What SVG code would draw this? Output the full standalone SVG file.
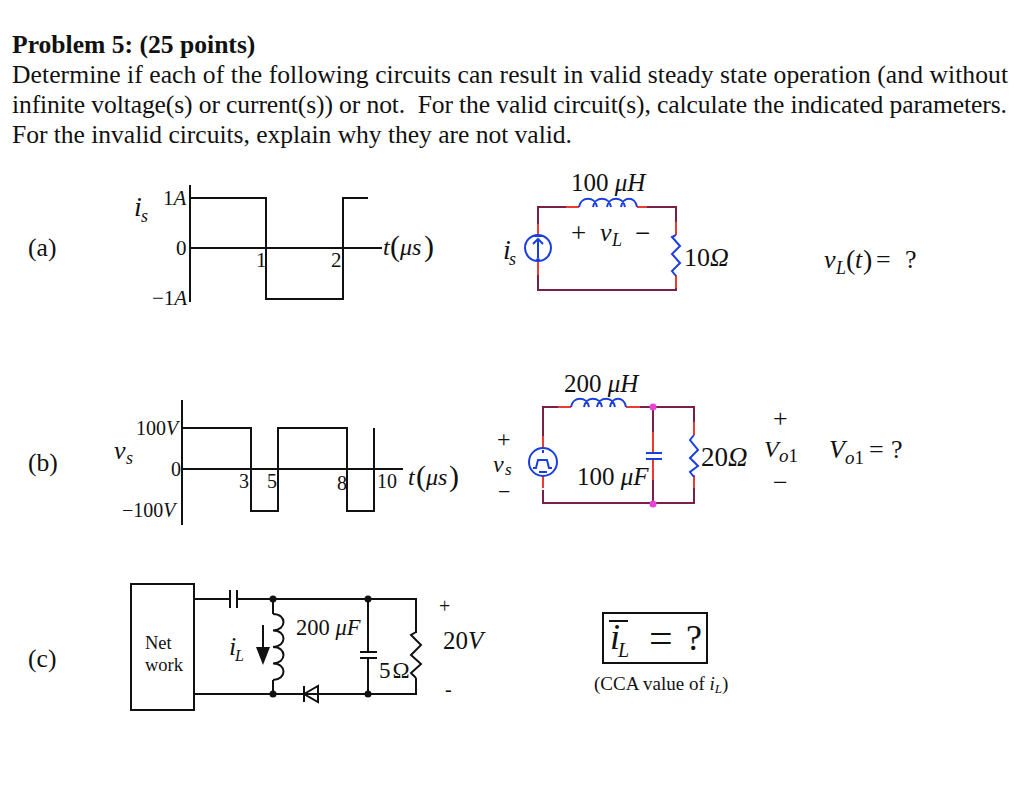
<svg xmlns="http://www.w3.org/2000/svg" width="1024" height="792" viewBox="0 0 1024 792">
<defs><style>
text{font-family:"Liberation Serif","Times New Roman",serif;fill:#111}
.t{font-size:25.6px}
.b{font-size:25.6px;font-weight:bold}
.i{font-style:italic}
.s{font-size:21px}
.u{font-size:20px}
.k{fill:none;stroke:#111;stroke-width:2}
.w{fill:none;stroke:#7a2048;stroke-width:2}
.r{fill:none;stroke:#ee3a30;stroke-width:2}
.c{fill:none;stroke:#1a3fe0;stroke-width:2}
.n{fill:#e845d8}
.d{fill:#111}
</style></defs>
<rect width="1024" height="792" fill="#fff"/>
<g id="problem-text">
<text class="b" x="12" y="53">Problem 5: (25 points)</text>
<text class="t" x="12" y="83" textLength="996">Determine if each of the following circuits can result in valid steady state operation (and without</text>
<text class="t" x="12" y="113" textLength="995" xml:space="preserve">infinite voltage(s) or current(s)) or not.  For the valid circuit(s), calculate the indicated parameters.</text>
<text class="t" x="12" y="143" textLength="560">For the invalid circuits, explain why they are not valid.</text>
</g>
<g id="label-a"><text class="t" x="28" y="256">(a)</text></g>
<g id="label-b"><text class="t" x="28" y="471">(b)</text></g>
<g id="label-c"><text class="t" x="28" y="667">(c)</text></g>

<g id="waveform-a">
<path class="k" d="M190 185V302M190 248H382M190 198H266V299H343V198H368"/>
<text class="i" font-size="28" x="134" y="216">i</text><text class="i" font-size="18" x="141" y="222">s</text>
<text class="s" x="163" y="205">1<tspan class="i">A</tspan></text>
<text class="s" x="176" y="255">0</text>
<text class="s" x="152" y="305">−1<tspan class="i">A</tspan></text>
<text class="s" x="256" y="267">1</text>
<text class="s" x="331" y="267">2</text>
<text class="i" font-size="24" x="383" y="255">t</text><text font-size="30" x="390" y="256">(</text><text class="i" font-size="24" x="400" y="255">μs</text><text font-size="30" x="424" y="256">)</text>
</g>
<g id="circuit-a">
<path class="w" d="M538 228V207H566M647 207H676V222M676 288V290H538V270"/>
<path class="r" d="M538 235V224M538 262V275M566 207H579M637 207H647M676 222V235M676 275V288"/>
<path class="c" d="M579 207c2-11 16-11 18 0M593 207c2-11 16-11 18 0M607 207c2-11 16-11 18 0M621 207c2-11 14-11 16 0"/>
<path class="c" d="M676 235L672 237L680 246L672 254L680 263L672 271L676 276"/>
<g id="source-a"><circle class="c" cx="538" cy="248" r="13"/><path class="c" d="M538 258V239M533 244L538 239L543 244M534 236H542"/><circle cx="538" cy="260" r="2" fill="#1a3fe0"/></g>
<text font-size="25" x="571" y="191">100 <tspan class="i">μH</tspan></text>
<text font-size="27" x="571" y="242">+</text>
<text class="i" font-size="26" x="600" y="241">v</text><text class="i" font-size="18" x="612" y="246">L</text>
<text font-size="27" x="635" y="242">−</text>
<text class="i" font-size="28" x="503" y="259">i</text><text class="i" font-size="18" x="509" y="265">s</text>
<text font-size="26" x="684" y="266">10<tspan class="i">Ω</tspan></text>
</g>
<g id="eq-a"><text class="i" font-size="26" x="824" y="268">v</text><text class="i" font-size="18" x="836" y="274">L</text><text font-size="28" x="846" y="269">(</text><text class="i" font-size="26" x="855" y="268">t</text><text font-size="28" x="863" y="269">)</text><text font-size="26" x="876" y="268">=</text><text font-size="26" x="905" y="268">?</text></g>

<g id="waveform-b">
<path class="k" d="M182 400V525M182 469H403M182 428H251V511H278V428H347V511H374V428"/>
<text class="i" font-size="26" x="114" y="459">v</text><text class="i" font-size="18" x="126" y="464">s</text>
<text class="u" x="136" y="435">100<tspan class="i">V</tspan></text>
<text class="u" x="171" y="476">0</text>
<text class="u" x="122" y="517">−100<tspan class="i">V</tspan></text>
<text class="u" x="239" y="488">3</text><text class="u" x="267" y="488">5</text><text class="u" x="337" y="490">8</text><text class="u" x="377" y="488">10</text>
<text class="i" font-size="24" x="408" y="485">t</text><text font-size="30" x="416" y="486">(</text><text class="i" font-size="24" x="426" y="485">μs</text><text font-size="30" x="449" y="486">)</text>
</g>
<g id="circuit-b">
<path class="w" d="M543 436V407H558M640 407H694V422M694 488V503H543V490M653 407V432M653 480V503"/>
<path class="r" d="M543 436V448M543 476V488M558 407H571M626 407H640M694 422V435M694 475V488M653 432V453M653 459V480"/>
<path class="c" d="M571 407c2-11 16-11 18 0M584 407c2-11 16-11 18 0M597 407c2-11 16-11 18 0M610 407c2-11 14-11 16 0"/>
<path class="c" d="M694 435L690 440L698 450L690 458L698 466L690 472L694 477"/>
<path class="c" d="M646 453H662M646 459H662"/>
<g id="source-b"><circle class="c" cx="543" cy="462" r="14"/><path class="c" d="M533 468H536L538 460H547L549 468H552M539 472H547M543 450V453"/></g>
<circle class="n" cx="653" cy="407" r="3.5"/><circle class="n" cx="653" cy="504" r="3.5"/>
<text font-size="25" x="564" y="392">200 <tspan class="i">μH</tspan></text>
<text font-size="25" x="577" y="485">100 <tspan class="i">μF</tspan></text>
<text font-size="27" x="701" y="466">20<tspan class="i">Ω</tspan></text>
<text font-size="24" x="497" y="447">+</text>
<text class="i" font-size="24" x="493" y="472">v</text><text class="i" font-size="17" x="505" y="475">s</text>
<text font-size="22" x="498" y="499">−</text>
<text font-size="26" x="773" y="427">+</text>
<text class="i" font-size="24" x="764" y="457">V</text><text font-size="19" x="779" y="462"><tspan class="i">o</tspan>1</text>
<text font-size="26" x="773" y="491">−</text>
</g>
<g id="eq-b"><text class="i" font-size="26" x="829" y="458">V</text><text font-size="19" x="845" y="464"><tspan class="i">o</tspan>1</text><text font-size="26" x="869" y="458">=</text><text font-size="26" x="891" y="458">?</text></g>

<g id="network"><rect class="k" x="131" y="584" width="63" height="126"/><text font-size="18.5" x="145" y="649">Net</text><text font-size="18.5" x="145" y="671">work</text></g>
<g id="circuit-c">
<path class="k" d="M194 599H230M237 599H416V633M416 678V694H194M230 590V608M237 590V608M273 599V614M273 680V694M368 599V652M368 658V694"/>
<path class="k" d="M273 614c14 0 14 16 0 16.500c14 0 14 16 0 16.500c14 0 14 16 0 16.500c14 0 14 16 0 16.500"/>
<path class="k" d="M360 652H377M360 658H377"/>
<path class="k" d="M416 632L411 635L421 645L411 655L421 664L411 673L416 678"/>
<path class="k" d="M304 694L318 686V702ZM304 686V702"/>
<path class="k" d="M263 625V650"/><path class="d" d="M256 647H270L263 665Z"/>
<circle class="d" cx="273" cy="599" r="3.5"/><circle class="d" cx="273" cy="694" r="3.5"/><circle class="d" cx="368" cy="599" r="3.5"/><circle class="d" cx="368" cy="694" r="3.5"/>
<text class="i" font-size="26" x="229" y="655">i</text><text class="i" font-size="16" x="235" y="661">L</text>
<text font-size="22.500" x="296" y="635">200 <tspan class="i">μF</tspan></text>
<text font-size="23" x="379" y="678">5<tspan dx="2">Ω</tspan></text>
<text font-size="20" x="439" y="613">+</text>
<text font-size="25" x="443" y="649">20<tspan class="i">V</tspan></text>
<text font-size="20" x="445" y="696">-</text>
</g>
<g id="eq-c">
<rect class="k" x="603" y="613" width="104" height="50"/>
<path class="k" d="M609 621H628"/>
<text class="i" font-size="36" x="610" y="649">i</text><text class="i" font-size="20" x="618" y="657">L</text>
<text font-size="42" x="649" y="652">=</text><text font-size="36" x="686" y="650">?</text>
<text font-size="19" x="594" y="690">(CCA value of <tspan class="i">i</tspan><tspan class="i" font-size="13" dy="3">L</tspan><tspan dy="-3">)</tspan></text>
</g>
</svg>
